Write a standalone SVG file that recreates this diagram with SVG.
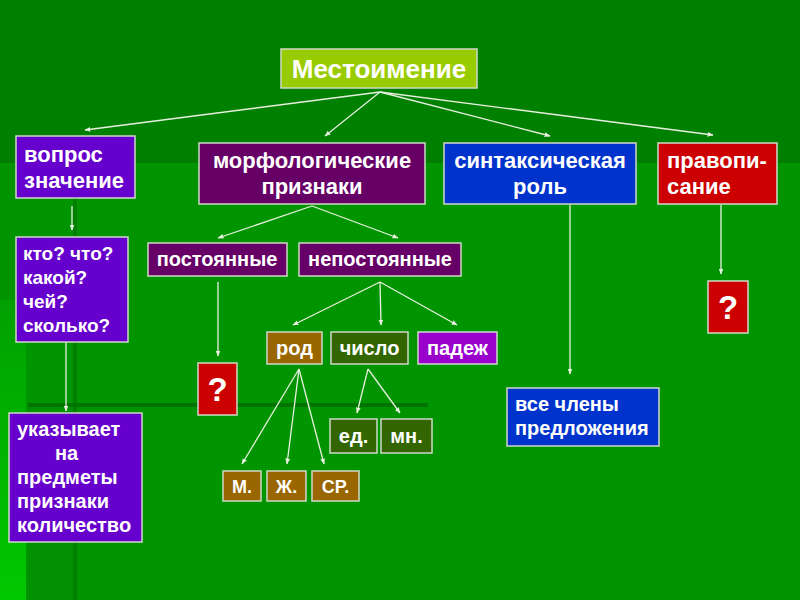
<svg xmlns="http://www.w3.org/2000/svg" width="800" height="600" viewBox="0 0 800 600">
<style>
  .box { stroke: #d0d8c8; stroke-width: 1.5; }
  .t { font-family: "Liberation Sans", Arial, sans-serif; font-weight: bold; fill: #ffffff; font-size: 20px; }
  .big { font-size: 22px; }
  .s19 { font-size: 19px; }
  .s18 { font-size: 18px; }
  .c { text-anchor: middle; }
  .q { font-size: 33px; }
  .conn line { stroke: #e8f0e0; stroke-width: 1.3; marker-end: url(#ah); }
</style>
<defs>
  <marker id="ah" viewBox="0 0 10 10" refX="9" refY="5" markerWidth="6" markerHeight="6" orient="auto" markerUnits="userSpaceOnUse">
    <path d="M0,1 L10,5 L0,9 z" fill="#e8f0e0"/>
  </marker>
  <linearGradient id="lg" x1="0" y1="0" x2="0" y2="1">
    <stop offset="0" stop-color="#00a000"/>
    <stop offset="1" stop-color="#00c800"/>
  </linearGradient>
</defs>
<g id="background">
  <rect x="0" y="0" width="800" height="600" fill="#009400"/>
  <rect x="0" y="0" width="800" height="160" fill="#008000"/>
  <rect x="0" y="159" width="800" height="4" fill="#007c00"/>
  <rect x="0" y="300" width="26" height="300" fill="url(#lg)"/>
  <rect x="73" y="163" width="4" height="437" fill="#008000"/>
  <rect x="28" y="403" width="400" height="4" fill="#007400"/>
  <rect x="28" y="407" width="45" height="193" fill="#009000"/>
</g>
<g class="conn" id="connectors">
  <line x1="380" y1="92" x2="85" y2="130"/>
  <line x1="380" y1="92" x2="325" y2="136"/>
  <line x1="380" y1="92" x2="550" y2="136"/>
  <line x1="380" y1="92" x2="713" y2="135"/>
  <line x1="72" y1="206" x2="72" y2="230"/>
  <line x1="66" y1="342" x2="66" y2="411"/>
  <line x1="312" y1="206" x2="218" y2="238"/>
  <line x1="312" y1="206" x2="398" y2="238"/>
  <line x1="218" y1="282" x2="218" y2="356"/>
  <line x1="380" y1="282" x2="293" y2="325"/>
  <line x1="380" y1="282" x2="381" y2="325"/>
  <line x1="380" y1="282" x2="457" y2="325"/>
  <line x1="299" y1="369" x2="242" y2="464"/>
  <line x1="299" y1="369" x2="287" y2="464"/>
  <line x1="299" y1="369" x2="324" y2="464"/>
  <line x1="368" y1="369" x2="357" y2="413"/>
  <line x1="368" y1="369" x2="400" y2="413"/>
  <line x1="570" y1="205" x2="570" y2="374"/>
  <line x1="721" y1="205" x2="721" y2="274"/>
</g>
<g id="n-mestoimenie">
  <rect class="box" x="281" y="49" width="196" height="39" fill="#99cc00"/>
  <text class="t c" x="379" y="78" style="font-size:26px">Местоимение</text>
</g>
<g id="n-vopros">
  <rect class="box" x="16" y="136" width="119" height="62" fill="#6600cc"/>
  <text class="t big" x="24" y="162">вопрос</text>
  <text class="t big" x="24" y="188">значение</text>
</g>
<g id="n-morf">
  <rect class="box" x="199" y="143" width="226" height="61" fill="#660066"/>
  <text class="t big c" x="312" y="168">морфологические</text>
  <text class="t big c" x="312" y="194">признаки</text>
</g>
<g id="n-sint">
  <rect class="box" x="444" y="143" width="192" height="61" fill="#0033cc"/>
  <text class="t big c" x="540" y="168">синтаксическая</text>
  <text class="t big c" x="540" y="194">роль</text>
</g>
<g id="n-pravo">
  <rect class="box" x="658" y="143" width="119" height="61" fill="#cc0000"/>
  <text class="t big" x="667" y="168">правопи-</text>
  <text class="t big" x="667" y="194">сание</text>
</g>
<g id="n-kto">
  <rect class="box" x="16" y="237" width="112" height="105" fill="#6600cc"/>
  <text class="t s19" x="23" y="260">кто? что?</text>
  <text class="t s19" x="23" y="284">какой?</text>
  <text class="t s19" x="23" y="308">чей?</text>
  <text class="t s19" x="23" y="332">сколько?</text>
</g>
<g id="n-ukaz">
  <rect class="box" x="9" y="413" width="133" height="129" fill="#6600cc"/>
  <text class="t" x="17" y="436">указывает</text>
  <text class="t" x="55" y="460">на</text>
  <text class="t" x="17" y="484">предметы</text>
  <text class="t" x="17" y="508">признаки</text>
  <text class="t" x="17" y="532">количество</text>
</g>
<g id="n-post">
  <rect class="box" x="148" y="243" width="139" height="33" fill="#660066"/>
  <text class="t c" x="217" y="266">постоянные</text>
</g>
<g id="n-nepost">
  <rect class="box" x="299" y="243" width="162" height="33" fill="#660066"/>
  <text class="t c" x="380" y="266">непостоянные</text>
</g>
<g id="n-q1">
  <rect class="box" x="198" y="363" width="39" height="52" fill="#cc0000"/>
  <text class="t c q" x="217.5" y="401">?</text>
</g>
<g id="n-q2">
  <rect class="box" x="708" y="281" width="40" height="52" fill="#cc0000"/>
  <text class="t c q" x="728" y="319">?</text>
</g>
<g id="n-rod">
  <rect class="box" x="267" y="332" width="55" height="32" fill="#996600"/>
  <text class="t c" x="294.5" y="355">род</text>
</g>
<g id="n-chislo">
  <rect class="box" x="331" y="332" width="77" height="32" fill="#336600"/>
  <text class="t c" x="369.5" y="355">число</text>
</g>
<g id="n-padezh">
  <rect class="box" x="418" y="332" width="79" height="32" fill="#9900cc"/>
  <text class="t c" x="457.5" y="355">падеж</text>
</g>
<g id="n-m">
  <rect class="box" x="223" y="471" width="38" height="30" fill="#996600"/>
  <text class="t c s18" x="242" y="493">М.</text>
</g>
<g id="n-zh">
  <rect class="box" x="267" y="471" width="39" height="30" fill="#996600"/>
  <text class="t c s18" x="286.5" y="493">Ж.</text>
</g>
<g id="n-sr">
  <rect class="box" x="312" y="471" width="47" height="30" fill="#996600"/>
  <text class="t c s18" x="335.5" y="493">СР.</text>
</g>
<g id="n-ed">
  <rect class="box" x="330" y="419" width="47" height="34" fill="#336600"/>
  <text class="t c" x="353.5" y="443">ед.</text>
</g>
<g id="n-mn">
  <rect class="box" x="381" y="419" width="51" height="34" fill="#336600"/>
  <text class="t c" x="406.5" y="443">мн.</text>
</g>
<g id="n-vse">
  <rect class="box" x="507" y="388" width="152" height="58" fill="#0033cc"/>
  <text class="t" x="515" y="411">все члены</text>
  <text class="t" x="515" y="435">предложения</text>
</g>
</svg>
